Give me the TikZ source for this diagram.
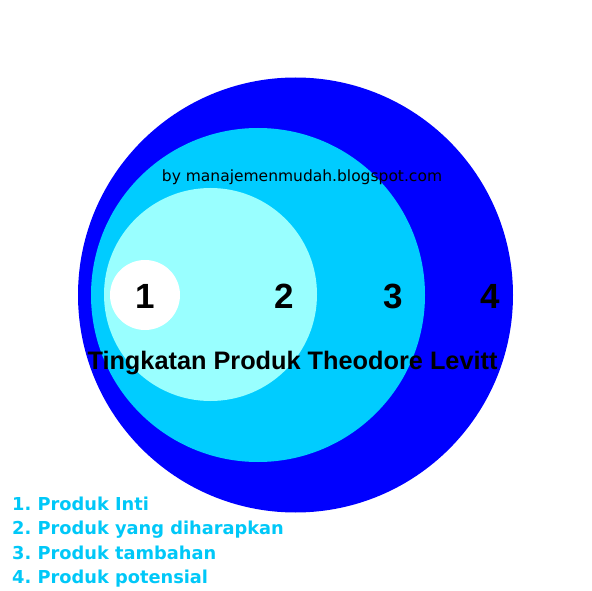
\documentclass[tikz,border=0pt]{standalone}
\usepackage{fontspec}
\setmainfont{Liberation Sans}
\newfontfamily\legendfont{DejaVu Sans}
\frenchspacing
\definecolor{ringblue}{HTML}{0000FF}
\definecolor{ringcyan}{HTML}{00CCFF}
\definecolor{ringlight}{HTML}{99FFFF}
\definecolor{legendcyan}{HTML}{00C8F8}
\begin{document}
\begin{tikzpicture}[x=1pt,y=-1pt,
  num/.style={anchor=base,inner sep=0pt,font=\fontsize{35}{35}\selectfont\bfseries},
  legend/.style={anchor=base west,inner sep=0pt,text=legendcyan,font=\legendfont\fontsize{17.8}{18}\selectfont\bfseries}]
\useasboundingbox[fill=white] (0,0) rectangle (592,591);
\fill[ringblue] (295.5,295) circle (217.5);
\fill[ringcyan] (258,295) circle (167);
\fill[ringlight] (210.5,294.5) circle (106.5);
\fill[white] (145,295) circle (35);
\node[num] (n1) at (145,308) {1};
\node[num] (n2) at (284,308) {2};
\node[num] (n3) at (393,308) {3};
\node[num] (n4) at (490,308) {4};
\node[anchor=base,inner sep=0pt,font=\fontsize{25.3}{26}\selectfont\bfseries] (title) at (292.5,369) {Tingkatan Produk Theodore Levitt};
\node[anchor=base,inner sep=0pt,font=\legendfont\fontsize{15.5}{16}\selectfont] (by) at (302,182) {by manajemenmudah.blogspot.com};
\node[legend] (l1) at (12,510) {1. Produk Inti};
\node[legend] (l2) at (12,534.5) {2. Produk yang diharapkan};
\node[legend] (l3) at (12,559) {3. Produk tambahan};
\node[legend] (l4) at (12,583.5) {4. Produk potensial};
\end{tikzpicture}
\end{document}
